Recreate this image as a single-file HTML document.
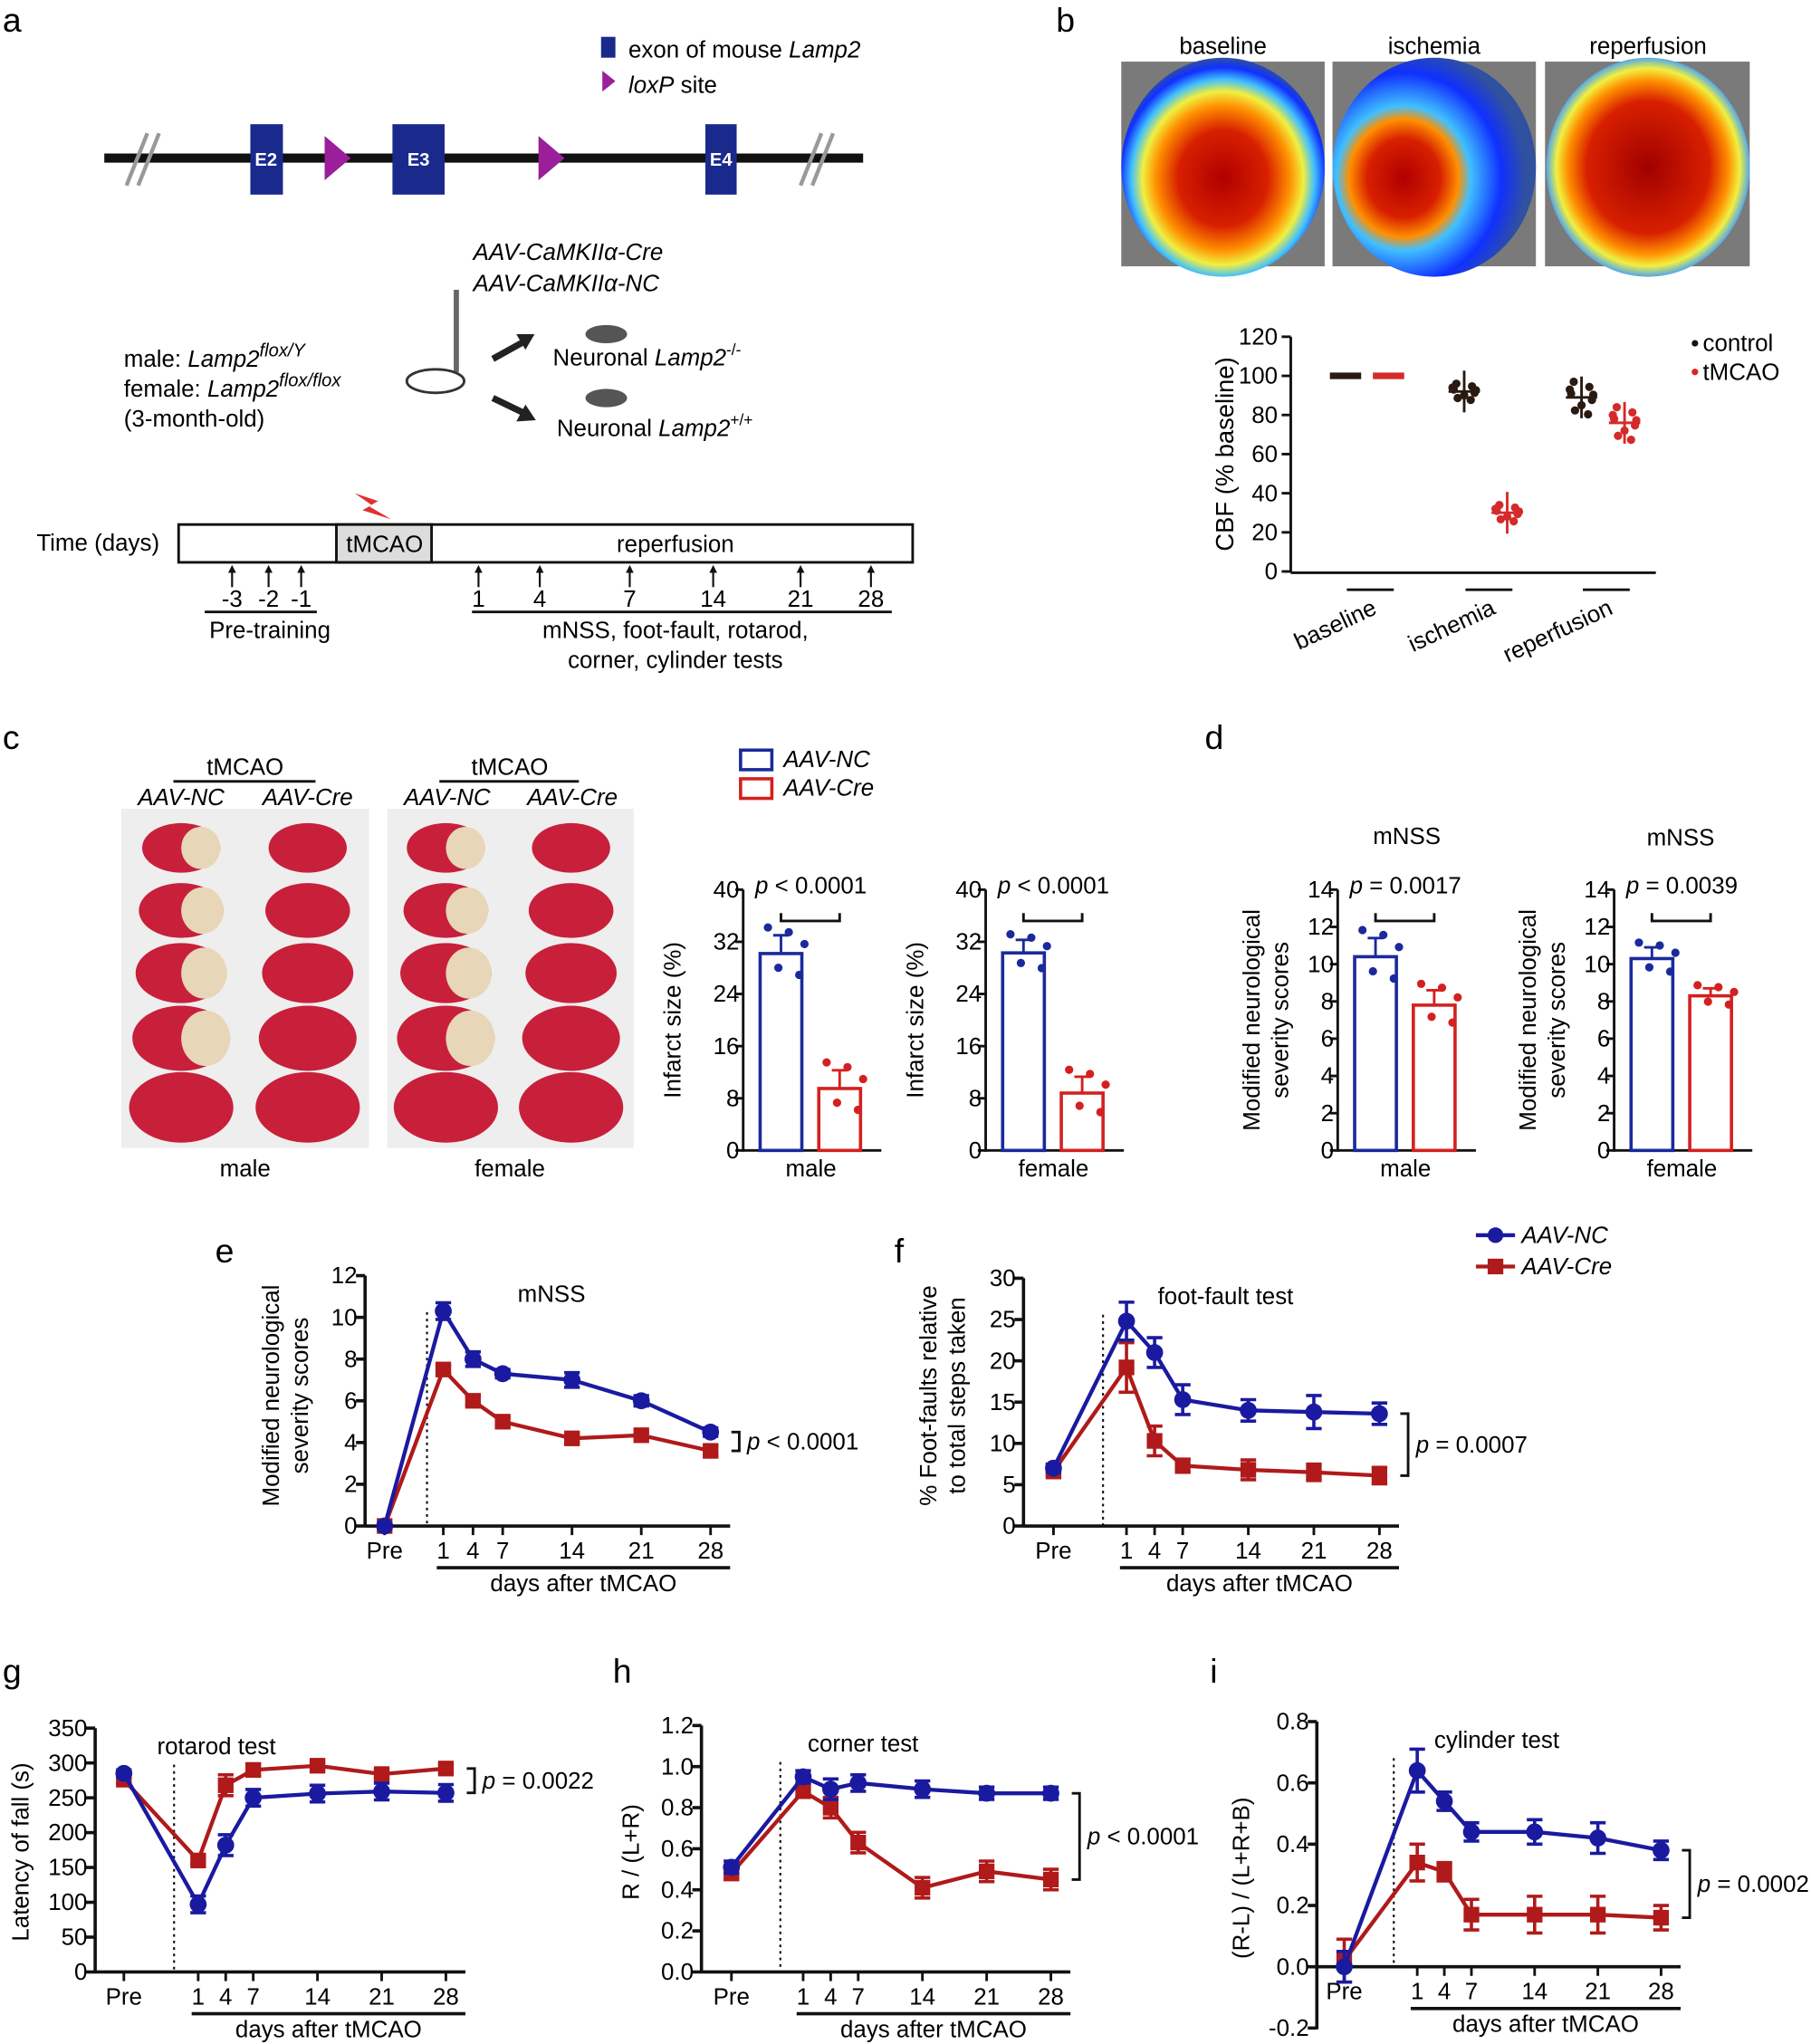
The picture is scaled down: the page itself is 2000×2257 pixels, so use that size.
<!DOCTYPE html>
<html><head><meta charset="utf-8"><style>
html,body{margin:0;padding:0;background:#fff}
svg{display:block;font-family:"Liberation Sans",Arial,sans-serif}
</style></head><body>
<svg id="fig" width="2000" height="2257" viewBox="0 0 1389 1567" xmlns="http://www.w3.org/2000/svg">
<defs>
<radialGradient id="cbf" cx="50%" cy="55%" r="55%">
<stop offset="0" stop-color="#b00000"/><stop offset="0.4" stop-color="#d82000"/><stop offset="0.6" stop-color="#ff9000"/><stop offset="0.72" stop-color="#f0f040"/><stop offset="0.82" stop-color="#40c0ff"/><stop offset="0.92" stop-color="#1030ff"/><stop offset="1" stop-color="#3050a0"/></radialGradient>
<radialGradient id="cbfi" cx="35%" cy="55%" r="60%">
<stop offset="0" stop-color="#b00000"/><stop offset="0.3" stop-color="#d82000"/><stop offset="0.45" stop-color="#ff9000"/><stop offset="0.55" stop-color="#40c0ff"/><stop offset="0.8" stop-color="#1030ff"/><stop offset="1" stop-color="#3050a0"/></radialGradient>
<radialGradient id="cbfr" cx="50%" cy="50%" r="55%">
<stop offset="0" stop-color="#a00000"/><stop offset="0.55" stop-color="#d82000"/><stop offset="0.72" stop-color="#ff9000"/><stop offset="0.82" stop-color="#f0f040"/><stop offset="0.92" stop-color="#40a0ff"/><stop offset="1" stop-color="#3050a0"/></radialGradient>
</defs>
<g id="panel-a" font-size="18">
<text x="2" y="24" font-size="26">a</text>
<rect x="461" y="28" width="11" height="16" fill="#1a2a8c"/>
<text x="482" y="44">exon of mouse <tspan font-style="italic">Lamp2</tspan></text>
<polygon points="462,54 462,70 472,62" fill="#9b1e9b"/>
<text x="482" y="71"><tspan font-style="italic">loxP</tspan> site</text>
<line x1="80" y1="121" x2="662" y2="121" stroke="#111" stroke-width="7"/>
<g stroke="#999" stroke-width="3"><line x1="97" y1="142" x2="113" y2="102"/><line x1="106" y1="142" x2="122" y2="102"/><line x1="614" y1="142" x2="630" y2="102"/><line x1="623" y1="142" x2="639" y2="102"/></g>
<rect x="192" y="95" width="25" height="54" fill="#1a2a8c"/><text x="204" y="127" fill="#fff" font-size="14" text-anchor="middle" font-weight="bold">E2</text>
<rect x="301" y="95" width="40" height="54" fill="#1a2a8c"/><text x="321" y="127" fill="#fff" font-size="14" text-anchor="middle" font-weight="bold">E3</text>
<rect x="541" y="95" width="24" height="54" fill="#1a2a8c"/><text x="553" y="127" fill="#fff" font-size="14" text-anchor="middle" font-weight="bold">E4</text>
<polygon points="249,104 249,138 269,121" fill="#9b1e9b"/>
<polygon points="413,104 413,138 433,121" fill="#9b1e9b"/>
<text x="363" y="199" font-style="italic">AAV-CaMKIIα-Cre</text>
<text x="363" y="223" font-style="italic">AAV-CaMKIIα-NC</text>
<line x1="350" y1="222" x2="350" y2="285" stroke="#666" stroke-width="4"/>
<text x="95" y="281">male: <tspan font-style="italic">Lamp2</tspan><tspan font-style="italic" font-size="14" dy="-8">flox/Y</tspan></text>
<text x="95" y="304">female: <tspan font-style="italic">Lamp2</tspan><tspan font-style="italic" font-size="14" dy="-8">flox/flox</tspan></text>
<text x="95" y="327">(3-month-old)</text>
<ellipse cx="334" cy="292" rx="22" ry="9" fill="#fff" stroke="#333" stroke-width="2"/>
<line x1="378" y1="275" x2="405" y2="260" stroke="#222" stroke-width="5"/><polygon points="410,256 396,256 403,268" fill="#222"/>
<line x1="378" y1="305" x2="405" y2="318" stroke="#222" stroke-width="5"/><polygon points="411,322 396,323 403,310" fill="#222"/>
<ellipse cx="465" cy="256" rx="16" ry="7" fill="#555"/>
<ellipse cx="465" cy="305" rx="16" ry="7" fill="#555"/>
<text x="424" y="280">Neuronal <tspan font-style="italic">Lamp2</tspan><tspan font-size="12" dy="-8">-/-</tspan></text>
<text x="427" y="334">Neuronal <tspan font-style="italic">Lamp2</tspan><tspan font-size="12" dy="-8">+/+</tspan></text>
<text x="28" y="422">Time (days)</text>
<rect x="137" y="402" width="563" height="29" fill="#fff" stroke="#111" stroke-width="2"/>
<rect x="258" y="402" width="73" height="29" fill="#ddd" stroke="#111" stroke-width="2"/>
<text x="295" y="423" text-anchor="middle">tMCAO</text>
<text x="518" y="423" text-anchor="middle">reperfusion</text>
<polygon points="272,378 290,384 283,388 300,398 278,391 285,387" fill="#e03030"/>
<g id="tl-ticks"></g>
<line x1="157" y1="469" x2="243" y2="469" stroke="#111" stroke-width="2"/>
<text x="207" y="489" text-anchor="middle">Pre-training</text>
<line x1="362" y1="469" x2="684" y2="469" stroke="#111" stroke-width="2"/>
<text x="518" y="489" text-anchor="middle">mNSS, foot-fault, rotarod,</text>
<text x="518" y="512" text-anchor="middle">corner, cylinder tests</text>
</g>
<g id="panel-b" font-size="18">
<text x="810" y="24" font-size="26">b</text>
<text x="938" y="41" text-anchor="middle">baseline</text>
<text x="1100" y="41" text-anchor="middle">ischemia</text>
<text x="1264" y="41" text-anchor="middle">reperfusion</text>
<rect x="860" y="47" width="156" height="157" fill="#7a7a7a"/><ellipse cx="938" cy="128" rx="78" ry="84" fill="url(#cbf)"/>
<rect x="1022" y="47" width="156" height="157" fill="#7a7a7a"/><ellipse cx="1100" cy="128" rx="78" ry="84" fill="url(#cbfi)"/>
<rect x="1185" y="47" width="157" height="157" fill="#7a7a7a"/><ellipse cx="1264" cy="128" rx="78" ry="84" fill="url(#cbfr)"/>
<g id="chart-b"></g>
<circle cx="1300" cy="263" r="2.5" fill="#111"/><text x="1306" y="269">control</text>
<circle cx="1300" cy="285" r="2.5" fill="#d22"/><text x="1306" y="291">tMCAO</text>
</g>
<g id="panel-c" font-size="18">
<text x="2" y="574" font-size="26">c</text>
<text x="188" y="594" text-anchor="middle">tMCAO</text><line x1="133" y1="599" x2="242" y2="599" stroke="#111" stroke-width="2"/>
<text x="391" y="594" text-anchor="middle">tMCAO</text><line x1="337" y1="599" x2="444" y2="599" stroke="#111" stroke-width="2"/>
<g font-style="italic"><text x="139" y="617" text-anchor="middle">AAV-NC</text><text x="236" y="617" text-anchor="middle">AAV-Cre</text><text x="343" y="617" text-anchor="middle">AAV-NC</text><text x="439" y="617" text-anchor="middle">AAV-Cre</text></g>
<rect x="93" y="620" width="190" height="260" fill="#eeeeee"/>
<rect x="297" y="620" width="189" height="260" fill="#eeeeee"/>
<g id="slices"></g>
<text x="188" y="902" text-anchor="middle">male</text><text x="391" y="902" text-anchor="middle">female</text>
<rect x="568" y="575" width="24" height="15" fill="none" stroke="#1a2a9c" stroke-width="2.5"/><text x="601" y="588" font-style="italic">AAV-NC</text>
<rect x="568" y="597" width="24" height="15" fill="none" stroke="#d42020" stroke-width="2.5"/><text x="601" y="610" font-style="italic">AAV-Cre</text>
<g id="chart-c"></g>
</g>
<g id="panel-d" font-size="18">
<text x="924" y="574" font-size="26">d</text>
<g id="chart-d"></g>
</g>
<g id="charts-line" font-size="18"></g>
<text x="165" y="968" font-size="26">e</text>
<text x="686" y="968" font-size="26">f</text>
<text x="2" y="1290" font-size="26">g</text>
<text x="470" y="1290" font-size="26">h</text>
<text x="928" y="1290" font-size="26">i</text>
<g font-size="18" font-style="italic">
<line x1="1132" y1="947" x2="1162" y2="947" stroke="#1a1aa0" stroke-width="3"/><circle cx="1147" cy="947" r="6" fill="#1a1aa0"/><text x="1167" y="953">AAV-NC</text>
<line x1="1132" y1="971" x2="1162" y2="971" stroke="#b01a1a" stroke-width="3"/><rect x="1141" y="965" width="12" height="12" fill="#b01a1a"/><text x="1167" y="977">AAV-Cre</text>
</g>
</svg>
<script>
const NS="http://www.w3.org/2000/svg";
function mk(tag,attrs,parent,txt){const e=document.createElementNS(NS,tag);for(const k in attrs)e.setAttribute(k,attrs[k]);if(txt!==undefined)e.textContent=txt;parent.appendChild(e);return e;}
const BLUE="#1a1aa0",RED="#b01a1a";

const tlDays=["-3","-2","-1","1","4","7","14","21","28"];
const tlX=[178,206,231,367,414,483,547,614,668];
const tl=document.getElementById('tl-ticks');
tlDays.forEach((d,i)=>{
 const g=mk('g',{},tl);
 
 
 mk('line',{x1:tlX[i],y1:450,x2:tlX[i],y2:436,stroke:'#111','stroke-width':1.5},g);
 mk('polygon',{points:`${tlX[i]-3},439 ${tlX[i]+3},439 ${tlX[i]},433`,fill:'#111'},g);
 mk('text',{x:tlX[i],y:465,'text-anchor':'middle','font-size':18},g,d);
});

const cbfGroups=["baseline","ischemia","reperfusion"];
const cbfControl=[100,92,89];
const cbfTmcao=[100,30,76];
const cbfTicks=[0,20,40,60,80,100,120];
(function(){
 const g=document.getElementById('chart-b');
 const y=v=>438-v*(180/120);
 const gx=[1047,1138,1228];
 mk('line',{x1:990,y1:258,x2:990,y2:439,stroke:'#111','stroke-width':2},g);
 mk('line',{x1:990,y1:439,x2:1270,y2:439,stroke:'#111','stroke-width':2},g);
 cbfTicks.forEach(t=>{mk('line',{x1:983,y1:y(t),x2:990,y2:y(t),stroke:'#111','stroke-width':2},g);mk('text',{x:980,y:y(t)+6,'text-anchor':'end','font-size':18},g,t);});
 const tt=mk('text',{x:946,y:348,'text-anchor':'middle','font-size':19,transform:'rotate(-90 946 348)'},g,'CBF (% baseline)');
 
 cbfGroups.forEach((n,i)=>{
  mk('line',{x1:gx[i]-14,y1:452,x2:gx[i]+22,y2:452,stroke:'#111','stroke-width':2},g);
  const lb=mk('text',{x:gx[i]+10,y:470,'text-anchor':'end','font-size':18,transform:`rotate(-25 ${gx[i]+10} 470)`},g,n);
  
  [[cbfControl[i],'#2a1a12',-15],[cbfTmcao[i],'#d42a2a',18]].forEach(([v,c,dx])=>{
   const cx=gx[i]+dx;
   if(i===0){mk('line',{x1:cx-12,y1:y(v),x2:cx+12,y2:y(v),stroke:c,'stroke-width':5},g);return;}
   const offs=[[-6,-12],[6,-8],[-8,-3],[8,2],[0,6],[-5,10],[5,13],[-9,-6],[9,-2]];
   mk('line',{x1:cx,y1:y(v)-16,x2:cx,y2:y(v)+16,stroke:c,'stroke-width':2},g);
   mk('line',{x1:cx-12,y1:y(v),x2:cx+12,y2:y(v),stroke:c,'stroke-width':2},g);
   offs.forEach(o=>{const d=mk('circle',{cx:cx+o[0],cy:y(v)+o[1]*(i===1?0.5:1),r:3.2,fill:c},g);});
  });
 });
})();

(function(){
 const g=document.getElementById('slices');
 const cols=[139,236,342,438],rows=[650,698,746,796,849];
 cols.forEach((cx,ci)=>rows.forEach((cy,ri)=>{
  const s=mk('g',{},g);
  
  
  const rx=30+ri*2.5,ry=19+ri*2;
  mk('ellipse',{cx:cx,cy:cy,rx:rx,ry:ry,fill:'#c8203a'},s);
  if(ci%2===0&&ri<4) mk('ellipse',{cx:cx+rx*0.5,cy:cy,rx:rx*0.5,ry:ry*0.85,fill:'#e8d6b8'},s);
 }));
})();

const infarctMaleNC=30.2, infarctMaleCre=9.5, infarctFemaleNC=30.3, infarctFemaleCre=8.8;
const mnssMaleNC=10.4, mnssMaleCre=7.8, mnssFemaleNC=10.3, mnssFemaleCre=8.3;
const infarctTicks=[0,8,16,24,32,40];
const mnssTicks=[0,2,4,6,8,10,12,14];
function barChart(g,ax,max,ticks,vals,errs,pLabel,xLabel,ytitle,ytitle2,name){
 const y=v=>882-v*(200/max);
 mk('line',{x1:ax,y1:y(max),x2:ax,y2:883,stroke:'#111','stroke-width':2},g);
 mk('line',{x1:ax,y1:882,x2:ax+106,y2:882,stroke:'#111','stroke-width':2},g);
 ticks.forEach(t=>{mk('line',{x1:ax-6,y1:y(t),x2:ax,y2:y(t),stroke:'#111','stroke-width':2},g);mk('text',{x:ax-3,y:y(t)+6,'text-anchor':'end','font-size':18},g,t);});
 const cols=['#1a2a9c','#d42020'];
 vals.forEach((v,i)=>{
  const x0=ax+13+i*45;
  const b=mk('rect',{x:x0,y:y(v),width:32,height:882-y(v),fill:'none',stroke:cols[i],'stroke-width':2.5},g);
  
  
  const cx=x0+16;
  mk('line',{x1:cx,y1:y(v+errs[i]),x2:cx,y2:y(v),stroke:cols[i],'stroke-width':2},g);
  mk('line',{x1:cx-6,y1:y(v+errs[i]),x2:cx+6,y2:y(v+errs[i]),stroke:cols[i],'stroke-width':2},g);
  [[-14,1.1],[-6,-0.6],[2,0.9],[10,-0.9],[14,0.4]].forEach((o,k)=>{const d=mk('circle',{cx:cx+o[0]+4,cy:y(v+o[1]*errs[i]*1.3),r:3.2,fill:cols[i]},g);});
 });
 mk('path',{d:`M${ax+29} ${y(max)+18} V${y(max)+24} H${ax+74} V${y(max)+18}`,fill:'none',stroke:'#111','stroke-width':2},g);
 mk('text',{x:ax+52,y:y(max)+3,'text-anchor':'middle','font-size':18},g,pLabel).innerHTML='<tspan font-style="italic">p</tspan> '+pLabel;
 mk('text',{x:ax+52,y:902,'text-anchor':'middle','font-size':18},g,xLabel);
 const tx=ax-50;
 if(ytitle2){
  mk('text',{x:tx-10,y:782,'text-anchor':'middle','font-size':18,transform:`rotate(-90 ${tx-10} 782)`},g,ytitle);
  mk('text',{x:tx+12,y:782,'text-anchor':'middle','font-size':18,transform:`rotate(-90 ${tx+12} 782)`},g,ytitle2);
 } else mk('text',{x:tx+2,y:782,'text-anchor':'middle','font-size':18,transform:`rotate(-90 ${tx+2} 782)`},g,ytitle);
}
barChart(document.getElementById('chart-c'),570,40,infarctTicks,[infarctMaleNC,infarctMaleCre],[2.8,2.8],'< 0.0001','male','Infarct size (%)',null,'infarct-male');
barChart(document.getElementById('chart-c'),756,40,infarctTicks,[infarctFemaleNC,infarctFemaleCre],[2,2.5],'< 0.0001','female','Infarct size (%)',null,'infarct-female');
barChart(document.getElementById('chart-d'),1026,14,mnssTicks,[mnssMaleNC,mnssMaleCre],[1,0.8],'= 0.0017','male','Modified neurological','severity scores','mnss-male');
barChart(document.getElementById('chart-d'),1238,14,mnssTicks,[mnssFemaleNC,mnssFemaleCre],[0.6,0.4],'= 0.0039','female','Modified neurological','severity scores','mnss-female');
(function(){const g=document.getElementById('chart-d');mk('text',{x:1079,y:647,'text-anchor':'middle','font-size':18},g,'mNSS');mk('text',{x:1289,y:648,'text-anchor':'middle','font-size':18},g,'mNSS');})();

const timeLabels=["Pre","1","4","7","14","21","28"];
const timeDays=[0,1,4,7,14,21,28];
const mnssNC=[0,10.3,8,7.3,7,6,4.5], mnssNCerr=[0.1,0.4,0.35,0.2,0.35,0.25,0.2];
const mnssCre=[0,7.5,6,5,4.2,4.35,3.6], mnssCreErr=[0.1,0.2,0.2,0.2,0.2,0.15,0.2];
const ffNC=[7,24.8,21,15.3,14,13.8,13.6], ffNCerr=[0.5,2.3,1.8,1.8,1.3,2,1.3];
const ffCre=[6.6,19.2,10.3,7.3,6.8,6.5,6.1], ffCreErr=[0.5,3,1.8,0.8,1.2,1,1];
const rotNC=[285,97,182,250,256,259,257], rotNCerr=[5,12,15,12,12,12,12];
const rotCre=[276,160,268,290,296,284,292], rotCreErr=[5,5,15,8,5,6,6];
const corNC=[0.51,0.95,0.89,0.92,0.89,0.87,0.87], corNCerr=[0.03,0.03,0.05,0.04,0.04,0.03,0.03];
const corCre=[0.48,0.88,0.80,0.63,0.41,0.49,0.45], corCreErr=[0.03,0.03,0.05,0.05,0.05,0.05,0.05];
const cylNC=[0,0.64,0.54,0.44,0.44,0.42,0.38], cylNCerr=[0.05,0.07,0.03,0.03,0.04,0.05,0.03];
const cylCre=[0.02,0.34,0.31,0.17,0.17,0.17,0.16], cylCreErr=[0.07,0.06,0.03,0.05,0.06,0.06,0.04];
const mnssYTicks=[0,2,4,6,8,10,12];
const ffYTicks=[0,5,10,15,20,25,30];
const rotYTicks=[0,50,100,150,200,250,300,350];
const corYTicks=["0.0","0.2","0.4","0.6","0.8","1.0","1.2"];
const cylYTicks=["-0.2","0.0","0.2","0.4","0.6","0.8"];

function lineChart(o){
 const g=mk('g',{},document.getElementById('charts-line'));
 
 
 const y=v=>o.y0-(v-o.ymin)*(o.y0-o.y1)/(o.ymax-o.ymin);
 const x=i=>i===0?o.xPre:o.x1+(timeDays[i]-1)*(o.x28-o.x1)/27;
 const ax=o.ax;
 const base=o.y0;
 mk('line',{x1:ax,y1:o.y1,x2:ax,y2:base+1,stroke:'#111','stroke-width':2.5},g);
 mk('line',{x1:ax,y1:y(o.xAxisAt),x2:o.x28+15,y2:y(o.xAxisAt),stroke:'#111','stroke-width':2.5},g);
 o.ticks.forEach(t=>{const v=parseFloat(t);mk('line',{x1:ax-7,y1:y(v),x2:ax,y2:y(v),stroke:'#111','stroke-width':2.5},g);mk('text',{x:ax-6,y:y(v)+6,'text-anchor':'end','font-size':18},g,t);});
 const xa=y(o.xAxisAt);
 timeLabels.forEach((l,i)=>{mk('line',{x1:x(i),y1:xa,x2:x(i),y2:xa+7,stroke:'#111','stroke-width':2},g);mk('text',{x:x(i),y:xa+25,'text-anchor':'middle','font-size':18},g,l);});
 mk('line',{x1:o.x1-5,y1:xa+32,x2:o.x28+15,y2:xa+32,stroke:'#111','stroke-width':2.5},g);
 mk('text',{x:(o.x1+o.x28)/2+5,y:xa+50,'text-anchor':'middle','font-size':18},g,'days after tMCAO');
 const dx=(o.xPre+o.x1)/2+10;
 mk('line',{x1:dx,y1:o.y1+28,x2:dx,y2:xa,stroke:'#111','stroke-width':1.5,'stroke-dasharray':'2,3'},g);
 mk('text',{x:o.titleX,y:o.y1+20,'text-anchor':'middle','font-size':18},g,o.title);
 o.ytitle.forEach((t,k)=>{const tx=o.ytx+k*22;mk('text',{x:tx,y:o.yty,'text-anchor':'middle','font-size':18,transform:`rotate(-90 ${tx} ${o.yty})`},g,t);});
 [[o.cre,o.creErr,RED,'sq'],[o.nc,o.ncErr,BLUE,'ci']].forEach(([vals,errs,c,sh])=>{
  mk('polyline',{points:vals.map((v,i)=>x(i)+','+y(v)).join(' '),fill:'none',stroke:c,'stroke-width':3},g);
  vals.forEach((v,i)=>{
   mk('line',{x1:x(i),y1:y(v-errs[i]),x2:x(i),y2:y(v+errs[i]),stroke:c,'stroke-width':2.5},g);
   [v-errs[i],v+errs[i]].forEach(e=>mk('line',{x1:x(i)-6,y1:y(e),x2:x(i)+6,y2:y(e),stroke:c,'stroke-width':2.5},g));
   let m;
   if(sh==='sq') m=mk('rect',{x:x(i)-6,y:y(v)-6,width:12,height:12,fill:c},g);
   else m=mk('circle',{cx:x(i),cy:y(v),r:6.5,fill:c},g);
   
   
  });
 });
 const bx=o.x28+22,a=y(o.nc[6]),b=y(o.cre[6]);
 mk('path',{d:`M${bx-6} ${Math.min(a,b)} H${bx} V${Math.max(a,b)} H${bx-6}`,fill:'none',stroke:'#111','stroke-width':2},g);
 const p=mk('text',{x:bx+6,y:(a+b)/2+6,'font-size':18},g);p.innerHTML='<tspan font-style="italic">p</tspan> '+o.p;
}
lineChart({name:'mnss-line-chart',ax:280,y0:1170,y1:978,ymin:0,ymax:12,xAxisAt:0,xPre:295,x1:340,x28:545,ticks:mnssYTicks,nc:mnssNC,ncErr:mnssNCerr,cre:mnssCre,creErr:mnssCreErr,title:'mNSS',titleX:423,ytitle:['Modified neurological','severity scores'],ytx:214,yty:1070,p:'< 0.0001'});
lineChart({name:'footfault-line-chart',ax:785,y0:1170,y1:980,ymin:0,ymax:30,xAxisAt:0,xPre:808,x1:864,x28:1058,ticks:ffYTicks,nc:ffNC,ncErr:ffNCerr,cre:ffCre,creErr:ffCreErr,title:'foot-fault test',titleX:940,ytitle:['% Foot-faults relative','to total steps taken'],ytx:718,yty:1070,p:'= 0.0007'});
lineChart({name:'rotarod-line-chart',ax:73,y0:1512,y1:1325,ymin:0,ymax:350,xAxisAt:0,xPre:95,x1:152,x28:342,ticks:rotYTicks,nc:rotNC,ncErr:rotNCerr,cre:rotCre,creErr:rotCreErr,title:'rotarod test',titleX:166,ytitle:['Latency of fall (s)'],ytx:22,yty:1420,p:'= 0.0022'});
lineChart({name:'corner-line-chart',ax:538,y0:1512,y1:1323,ymin:0,ymax:1.2,xAxisAt:0,xPre:561,x1:616,x28:806,ticks:corYTicks,nc:corNC,ncErr:corNCerr,cre:corCre,creErr:corCreErr,title:'corner test',titleX:662,ytitle:['R / (L+R)'],ytx:490,yty:1420,p:'< 0.0001'});
lineChart({name:'cylinder-line-chart',ax:1010,y0:1555,y1:1320,ymin:-0.2,ymax:0.8,xAxisAt:0,xPre:1031,x1:1087,x28:1274,ticks:cylYTicks,nc:cylNC,ncErr:cylNCerr,cre:cylCre,creErr:cylCreErr,title:'cylinder test',titleX:1148,ytitle:['(R-L) / (L+R+B)'],ytx:958,yty:1440,p:'= 0.0002'});
</script>
</body></html>
